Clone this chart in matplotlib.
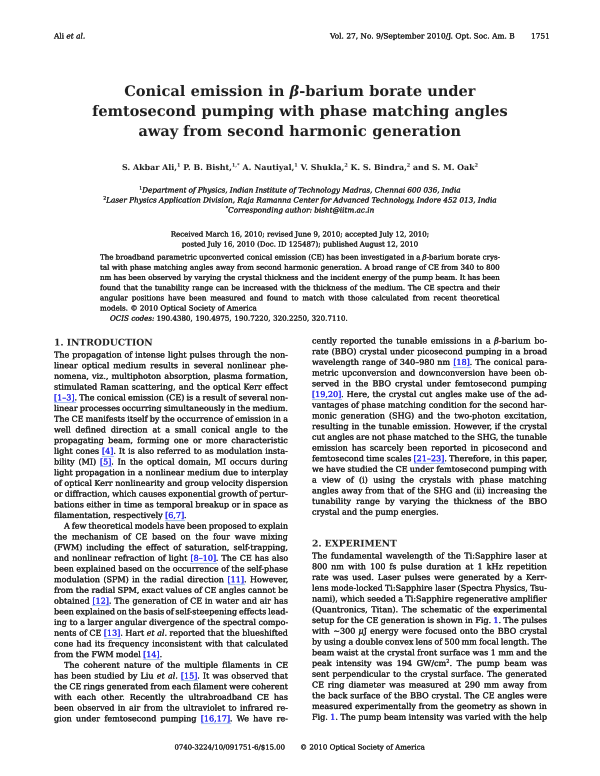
import re
import matplotlib
matplotlib.use("Agg")
import matplotlib.pyplot as plt
import matplotlib.patheffects as pe
from matplotlib.lines import Line2D

# page text, line by line as typeset
# markup: {..} boxed citation, <..> blue link, _.._ italic, ^..^ superscript
# ">" at start = indented paragraph, "|" at end = last line (not justified)
HEADER_LEFT = "Ali _et al._"
HEADER_RIGHT = "Vol. 27, No. 9/September 2010/J. Opt. Soc. Am. B"
PAGE_NO = "1751"

TITLE = [
    "Conical emission in _β_-barium borate under",
    "femtosecond pumping with phase matching angles",
    "away from second harmonic generation",
]

AUTHORS = ("S. Akbar Ali,^1^ P. B. Bisht,^1,*^ A. Nautiyal,^1^ V. Shukla,^2^ "
           "K. S. Bindra,^2^ and S. M. Oak^2^")

AFFILS = [
    "^1^_Department of Physics, Indian Institute of Technology Madras, Chennai 600 036, India_",
    "^2^_Laser Physics Application Division, Raja Ramanna Center for Advanced Technology, Indore 452 013, India_",
    "^*^_Corresponding author: bisht@iitm.ac.in_",
]

DATES = [
    "Received March 16, 2010; revised June 9, 2010; accepted July 12, 2010;",
    "posted July 16, 2010 (Doc. ID 125487); published August 12, 2010",
]

ABSTRACT = [
    "The broadband parametric upconverted conical emission (CE) has been investigated in a _β_-barium borate crys-",
    "tal with phase matching angles away from second harmonic generation. A broad range of CE from 340 to 800",
    "nm has been observed by varying the crystal thickness and the incident energy of the pump beam. It has been",
    "found that the tunability range can be increased with the thickness of the medium. The CE spectra and their",
    "angular positions have been measured and found to match with those calculated from recent theoretical",
    "models. © 2010 Optical Society of America|",
    ">_OCIS codes:_ 190.4380, 190.4975, 190.7220, 320.2250, 320.7110.|",
]

HEAD_1 = "1. INTRODUCTION"
HEAD_2 = "2. EXPERIMENT"

LEFT_COL = [
    "The propagation of intense light pulses through the non-",
    "linear optical medium results in several nonlinear phe-",
    "nomena, viz., multiphoton absorption, plasma formation,",
    "stimulated Raman scattering, and the optical Kerr effect",
    "{[1–3]}. The conical emission (CE) is a result of several non-",
    "linear processes occurring simultaneously in the medium.",
    "The CE manifests itself by the occurrence of emission in a",
    "well defined direction at a small conical angle to the",
    "propagating beam, forming one or more characteristic",
    "light cones {[4]}. It is also referred to as modulation insta-",
    "bility (MI) {[5]}. In the optical domain, MI occurs during",
    "light propagation in a nonlinear medium due to interplay",
    "of optical Kerr nonlinearity and group velocity dispersion",
    "or diffraction, which causes exponential growth of pertur-",
    "bations either in time as temporal breakup or in space as",
    "filamentation, respectively {[6,7]}.|",
    ">A few theoretical models have been proposed to explain",
    "the mechanism of CE based on the four wave mixing",
    "(FWM) including the effect of saturation, self-trapping,",
    "and nonlinear refraction of light {[8–10]}. The CE has also",
    "been explained based on the occurrence of the self-phase",
    "modulation (SPM) in the radial direction {[11]}. However,",
    "from the radial SPM, exact values of CE angles cannot be",
    "obtained {[12]}. The generation of CE in water and air has",
    "been explained on the basis of self-steepening effects lead-",
    "ing to a larger angular divergence of the spectral compo-",
    "nents of CE {[13]}. Hart _et al._ reported that the blueshifted",
    "cone had its frequency inconsistent with that calculated",
    "from the FWM model {[14]}.|",
    ">The coherent nature of the multiple filaments in CE",
    "has been studied by Liu _et al._ {[15]}. It was observed that",
    "the CE rings generated from each filament were coherent",
    "with each other. Recently the ultrabroadband CE has",
    "been observed in air from the ultraviolet to infrared re-",
    "gion under femtosecond pumping {[16,17]}. We have re-",
]

RIGHT_COL = [
    "cently reported the tunable emissions in a _β_-barium bo-",
    "rate (BBO) crystal under picosecond pumping in a broad",
    "wavelength range of 340–980 nm {[18]}. The conical para-",
    "metric upconversion and downconversion have been ob-",
    "served in the BBO crystal under femtosecond pumping",
    "{[19,20]}. Here, the crystal cut angles make use of the ad-",
    "vantages of phase matching condition for the second har-",
    "monic generation (SHG) and the two-photon excitation,",
    "resulting in the tunable emission. However, if the crystal",
    "cut angles are not phase matched to the SHG, the tunable",
    "emission has scarcely been reported in picosecond and",
    "femtosecond time scales {[21–23]}. Therefore, in this paper,",
    "we have studied the CE under femtosecond pumping with",
    "a view of (i) using the crystals with phase matching",
    "angles away from that of the SHG and (ii) increasing the",
    "tunability range by varying the thickness of the BBO",
    "crystal and the pump energies.|",
]

EXPERIMENT = [
    "The fundamental wavelength of the Ti:Sapphire laser at",
    "800 nm with 100 fs pulse duration at 1 kHz repetition",
    "rate was used. Laser pulses were generated by a Kerr-",
    "lens mode-locked Ti:Sapphire laser (Spectra Physics, Tsu-",
    "nami), which seeded a Ti:Sapphire regenerative amplifier",
    "(Quantronics, Titan). The schematic of the experimental",
    "setup for the CE generation is shown in Fig. <1>. The pulses",
    "with ~300 _μ_J energy were focused onto the BBO crystal",
    "by using a double convex lens of 500 mm focal length. The",
    "beam waist at the crystal front surface was 1 mm and the",
    "peak intensity was 194 GW/cm^2^. The pump beam was",
    "sent perpendicular to the crystal surface. The generated",
    "CE ring diameter was measured at 290 mm away from",
    "the back surface of the BBO crystal. The CE angles were",
    "measured experimentally from the geometry as shown in",
    "Fig. <1>. The pump beam intensity was varied with the help",
]

FOOT_LEFT = "0740-3224/10/091751-6/$15.00"
FOOT_RIGHT = "© 2010 Optical Society of America"

W, H = 600, 776
SERIF = ["DejaVu Serif"]
INK = "#222222"
BLUE = "#2b2bef"
BOX = "#a9c1f2"
STROKE = 0.12  # just a touch heavier than the bare outlines

fig = plt.figure(figsize=(W / 100, H / 100), dpi=100)
fig.patch.set_facecolor("white")
renderer = fig.canvas.get_renderer()

TOKEN = re.compile(r"\{([^}]*)\}|<([^>]*)>|_([^_]*)_|\^([^^]*)\^|([^{<_^]+)")


def parse(line):
    runs = []
    for m in TOKEN.finditer(line):
        cite, link, ital, sup, plain = m.groups()
        if cite is not None:
            runs.append((cite, "cite"))
        elif link is not None:
            runs.append((link, "blue"))
        elif ital is not None:
            runs.append((ital, "ital"))
        elif sup is not None:
            runs.append((sup, "sup"))
        else:
            runs.append((plain, "plain"))
    return runs


def words_of(line):
    words = [[]]
    for text, kind in parse(line):
        for k, piece in enumerate(text.split(" ")):
            if k > 0:
                words.append([])
            if piece:
                words[-1].append((piece, kind))
    return [w for w in words if w]


def make(text, kind, size, weight, italic):
    style = "italic" if (italic or kind == "ital") else "normal"
    fs = size * 0.62 if kind == "sup" else size
    color = BLUE if kind in ("cite", "blue") else INK
    t = fig.text(0, 0, text, fontsize=fs, fontweight=weight, fontstyle=style,
                 family=SERIF, color=color, va="baseline", ha="left")
    w = t.get_window_extent(renderer).width
    # draw glyphs as outlines so they keep the measured advance widths
    if weight == "normal":
        t.set_path_effects([pe.withStroke(linewidth=STROKE, foreground=color)])
    else:
        t.set_path_effects([pe.Normal()])
    return t, w


def space_width(size, weight):
    a, wa = make("n n", "plain", size, weight, False)
    b, wb = make("nn", "plain", size, weight, False)
    a.remove()
    b.remove()
    return wa - wb


def build(line, size, weight="normal", italic=False):
    items = []
    for word in words_of(line):
        items.append([make(p, kind, size, weight, italic) + (kind,) for p, kind in word])
    return items


def ink_width(items):
    return sum(w for word in items for _, w, _ in word)


def natural(line, size, weight="normal", italic=False):
    items = build(line, size, weight, italic)
    total = ink_width(items) + space_width(size, weight) * (len(items) - 1)
    for word in items:
        for t, _, _ in word:
            t.remove()
    return total


def fit(line, target, weight="normal", italic=False):
    return 10 * target / natural(line, 10, weight, italic)


def draw(line, x, y, size, weight="normal", italic=False, ha="left", width=None):
    items = build(line, size, weight, italic)
    gap = space_width(size, weight)
    wsum = ink_width(items)
    if width is not None and len(items) > 1:
        gap = (width - wsum) / (len(items) - 1)
    span = wsum + gap * (len(items) - 1)
    if ha == "center":
        x -= span / 2
    elif ha == "right":
        x -= span
    for word in items:
        for t, w, kind in word:
            dy = -size * 0.42 * 100 / 72 if kind == "sup" else 0
            t.set_position((x / W, 1 - (y + dy) / H))
            if kind == "cite":
                fig.add_artist(Line2D([x / W, (x + w) / W], [1 - (y + 1.8) / H] * 2,
                                      color=BOX, lw=0.8))
            x += w
        x += gap


def block(lines, x0, x1, y0, step, size, indent=10):
    for i, raw in enumerate(lines):
        ind = indent if raw.startswith(">") else 0
        last = raw.endswith("|")
        text = raw.lstrip(">").rstrip("|")
        draw(text, x0 + ind, y0 + i * step, size,
             width=None if last else (x1 - x0 - ind))


def block_size(lines, target):
    full = [l.lstrip(">").rstrip("|") for l in lines if not l.endswith("|")]
    mean = sum(natural(l, 10) for l in full) / len(full)
    return 10 * target / mean


# running head
hsize = fit(HEADER_RIGHT, 183)
draw(HEADER_LEFT, 54, 38.5, hsize)
draw(HEADER_RIGHT, 330, 38.5, hsize)
draw(PAGE_NO, 550, 38.5, hsize, ha="right")

# title
tsize = fit(TITLE[1], 416, weight="bold")
for i, line in enumerate(TITLE):
    draw(line, 300, 96 + 20 * i, tsize, weight="bold", ha="center")

# authors and affiliations
draw(AUTHORS, 300, 170, fit(AUTHORS, 357, weight="bold"), weight="bold", ha="center")
asize = fit(AFFILS[1], 394)
for i, line in enumerate(AFFILS):
    draw(line, 300, 192.5 + 10 * i, asize, ha="center")

dsize = fit(DATES[0], 258)
for i, line in enumerate(DATES):
    draw(line, 300, 236.5 + 10 * i, dsize, ha="center")

# abstract
absize = block_size(ABSTRACT, 394)
block(ABSTRACT, 100, 500, 259.5, 10.2, absize)

# body columns
bsize = block_size(LEFT_COL + RIGHT_COL + EXPERIMENT, 230)
hdsize = fit(HEAD_1, 99, weight="bold")
draw(HEAD_1, 54, 345.5, hdsize, weight="bold")
block(LEFT_COL, 54, 288, 357.5, 10.7, bsize)
block(RIGHT_COL, 312, 547, 343.5, 10.7, bsize)
draw(HEAD_2, 312, 546.5, hdsize, weight="bold")
block(EXPERIMENT, 312, 547, 558.5, 10.75, bsize)

# footer
draw(FOOT_LEFT, 285, 749.5, fit(FOOT_LEFT, 110), ha="right")
draw(FOOT_RIGHT, 300, 749.5, fit(FOOT_RIGHT, 125))

fig.savefig("out.png", dpi=100)
